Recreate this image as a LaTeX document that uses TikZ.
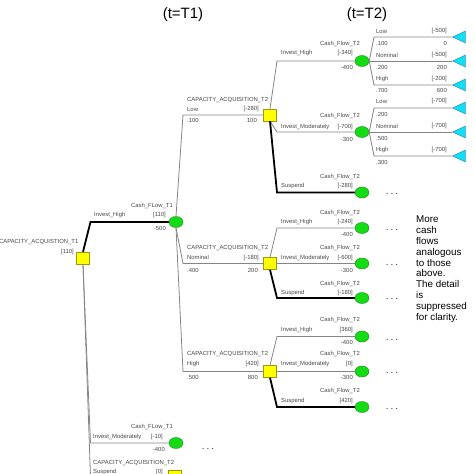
\documentclass[tikz,border=0pt]{standalone}
\usepackage{fontspec}
\setmainfont{Liberation Sans}
\usepackage{xcolor}
\definecolor{node-yellow}{HTML}{FFFF00}
\definecolor{node-olive}{HTML}{9A9A10}
\definecolor{node-green}{HTML}{14DC14}
\definecolor{node-darkgreen}{HTML}{1A8A1A}
\definecolor{node-cyan}{HTML}{12E0F0}
\definecolor{node-blue}{HTML}{2A78C0}
\usepackage{tikz}
\usetikzlibrary{shapes.geometric}
\tikzset{dec/.style = {draw=node-olive, fill=node-yellow, minimum width=13pt, minimum height=12pt, inner sep=0}}
\tikzset{chance/.style = {draw=node-darkgreen, fill=node-green, ellipse, minimum width=14pt, minimum height=11pt, inner sep=0}}
\tikzset{term/.style = {draw=node-blue, fill=node-cyan, isosceles triangle, isosceles triangle stretches, shape border rotate=180, minimum width=12pt, minimum height=13pt, inner sep=0, anchor=apex}}
\tikzset{lab/.style = {inner sep=0, text=black!72, font=\fontsize{5.9}{7}\selectfont, anchor=west}}
\tikzset{labr/.style = {lab, anchor=east}}
\tikzset{title/.style = {inner sep=0, font=\fontsize{15}{18}\selectfont}}
\tikzset{dots/.style = {inner sep=0, text=black!80, font=\fontsize{10}{12}\selectfont}}
\tikzset{br/.style = {draw=black!48, line width=0.8pt}}
\tikzset{opt/.style = {draw=black, line width=1.8pt}}

\begin{document}
\begin{tikzpicture}[x=1pt, y=-1pt]
\useasboundingbox (0,0) rectangle (474,474);

\node[title] (tt1) at (183,15) {(t=T1)};
\node[title] (tt2) at (367,15) {(t=T2)};

% tree nodes
\node[dec] (d0) at (83,258) {};
\node[chance] (c1) at (176,222) {};
\node[chance] (c2) at (176,443) {};
\node[dec] (d4) at (175,476.5) {};
\node[dec] (d1) at (270,115) {};
\node[dec] (d2) at (270,263.5) {};
\node[dec] (d3) at (270,371.5) {};
\node[chance] (c3) at (362,61) {};
\node[chance] (c4) at (362,132) {};
\node[chance] (c5) at (362,192.5) {};
\node[chance] (c6) at (362,228) {};
\node[chance] (c7) at (362,263.5) {};
\node[chance] (c8) at (362,298) {};
\node[chance] (c9) at (362,336.5) {};
\node[chance] (c10) at (362,371.5) {};
\node[chance] (c11) at (362,407) {};
\node[term] (t1) at (452,37) {};
\node[term] (t2) at (452,61) {};
\node[term] (t3) at (452,85) {};
\node[term] (t4) at (452,108) {};
\node[term] (t5) at (452,132) {};
\node[term] (t6) at (452,156) {};

% fan points
\coordinate (f0) at (90.5,0);
\coordinate (f1) at (183,0);
\coordinate (f2) at (277,0);
\coordinate (f3) at (374,0);

% root
\node[labr] (d0h) at (78.5,242) {CAPACITY\_ACQUISTION\_T1};
\node[labr] (d0v) at (74,252) {[110]};
\node[labr] (c1h) at (173,206) {Cash\_FLow\_T1};
\node[lab] (c1n) at (94,215) {Invest\_High};
\node[labr] (c1v) at (166,215) {[110]};
\node[labr] (c1p) at (166,228) {-500};
\node[labr] (c2h) at (173,427) {Cash\_FLow\_T1};
\node[lab] (c2n) at (93,437) {Invest\_Moderately};
\node[labr] (c2v) at (163,437) {[-10]};
\node[labr] (c2p) at (165,449) {-400};
\node[lab] (d4h) at (93,463) {CAPACITY\_ACQUISITION\_T2};
\node[lab] (d4n) at (93,472) {Suspend};
\node[labr] (d4v) at (163,472) {[0]};

% capacity at T2
\node[lab] (d1h) at (187,100) {CAPACITY\_ACQUISITION\_T2};
\node[lab] (d1n) at (187,109) {Low};
\node[labr] (d1v) at (259,109) {[-280]};
\node[lab] (d1p) at (187,120) {.100};
\node[labr] (d1q) at (257,120) {100};
\node[lab] (d2h) at (187,248) {CAPACITY\_ACQUISITION\_T2};
\node[lab] (d2n) at (187,257.5) {Nominal};
\node[labr] (d2v) at (259,257.5) {[-180]};
\node[lab] (d2p) at (187,270) {.400};
\node[labr] (d2q) at (258,270) {200};
\node[lab] (d3h) at (187,354) {CAPACITY\_ACQUISITION\_T2};
\node[lab] (d3n) at (187,364) {High};
\node[labr] (d3v) at (259,364) {[420]};
\node[lab] (d3p) at (187,377) {.500};
\node[labr] (d3q) at (258,377) {800};

% cash flows at T2
\node[labr] (c3h) at (360,44) {Cash\_Flow\_T2};
\node[lab] (c3n) at (281,53) {Invest\_High};
\node[labr] (c3v) at (353,53) {[-340]};
\node[labr] (c3p) at (353,67) {-400};
\node[labr] (c4h) at (360,116) {Cash\_Flow\_T2};
\node[lab] (c4n) at (281,127) {Invest\_Moderately};
\node[labr] (c4v) at (353,127) {[-700]};
\node[labr] (c4p) at (353,139) {-300};
\node[labr] (c5h) at (360,177) {Cash\_Flow\_T2};
\node[lab] (c5n) at (281,186) {Suspend};
\node[labr] (c5v) at (353,186) {[-280]};
\node[labr] (c6h) at (360,213) {Cash\_Flow\_T2};
\node[lab] (c6n) at (281,222) {Invest\_High};
\node[labr] (c6v) at (353,222) {[-240]};
\node[labr] (c6p) at (353,234) {-400};
\node[labr] (c7h) at (360,248) {Cash\_Flow\_T2};
\node[lab] (c7n) at (281,258) {Invest\_Moderately};
\node[labr] (c7v) at (353,258) {[-600]};
\node[labr] (c7p) at (353,270) {-300};
\node[labr] (c8h) at (360,284) {Cash\_Flow\_T2};
\node[lab] (c8n) at (281,293) {Suspend};
\node[labr] (c8v) at (353,293) {[-180]};
\node[labr] (c9h) at (360,320) {Cash\_Flow\_T2};
\node[lab] (c9n) at (281,330) {Invest\_High};
\node[labr] (c9v) at (353,330) {[360]};
\node[labr] (c9p) at (353,342) {-400};
\node[labr] (c10h) at (360,354) {Cash\_Flow\_T2};
\node[lab] (c10n) at (281,364) {Invest\_Moderately};
\node[labr] (c10v) at (353,364) {[0]};
\node[labr] (c10p) at (353,377) {-300};
\node[labr] (c11h) at (360,391) {Cash\_Flow\_T2};
\node[lab] (c11n) at (281,401) {Suspend};
\node[labr] (c11v) at (353,401) {[420]};

% outcomes
\node[lab] (t1n) at (376,31) {Low};
\node[labr] (t1v) at (447,31) {[-500]};
\node[lab] (t1p) at (376,43) {.100};
\node[labr] (t1q) at (447,43) {0};
\node[lab] (t2n) at (376,55) {Nominal};
\node[labr] (t2v) at (447,55) {[-500]};
\node[lab] (t2p) at (376,67) {.200};
\node[labr] (t2q) at (447,67) {200};
\node[lab] (t3n) at (376,79) {High};
\node[labr] (t3v) at (447,79) {[-200]};
\node[lab] (t3p) at (376,90) {.700};
\node[labr] (t3q) at (447,90) {600};
\node[lab] (t4n) at (376,101) {Low};
\node[labr] (t4v) at (447,101) {[-700]};
\node[lab] (t4p) at (376,114) {.200};
\node[lab] (t5n) at (376,126) {Nominal};
\node[labr] (t5v) at (447,126) {[-700]};
\node[lab] (t5p) at (376,138) {.500};
\node[lab] (t6n) at (376,150) {High};
\node[labr] (t6v) at (447,150) {[-700]};
\node[lab] (t6p) at (376,162) {.300};

% suppressed subtrees
\node[dots] (e2) at (208,449) {.\hspace{2pt}.\hspace{2pt}.};
\node[dots] (e5) at (392,194) {.\hspace{2pt}.\hspace{2pt}.};
\node[dots] (e6) at (392,230) {.\hspace{2pt}.\hspace{2pt}.};
\node[dots] (e7) at (392,265) {.\hspace{2pt}.\hspace{2pt}.};
\node[dots] (e8) at (392,299) {.\hspace{2pt}.\hspace{2pt}.};
\node[dots] (e9) at (392,340) {.\hspace{2pt}.\hspace{2pt}.};
\node[dots] (e10) at (392,373) {.\hspace{2pt}.\hspace{2pt}.};
\node[dots] (e11) at (392,409) {.\hspace{2pt}.\hspace{2pt}.};
\node[anchor=north west, inner sep=0, align=left, font=\fontsize{9.8}{10.8}\selectfont] (note) at (416,216) {More\\cash\\flows\\analogous\\to those\\above.\\The detail\\is\\suppressed\\for clarity.};

% branches
\draw[opt] (d0.north) -- (f0 |- c1) -- (c1);
\draw[br] (d0.south) -- (f0 |- c2) -- (c2);
\draw[br] (d0.south) -- (f0 |- d4) -- (d4);
\draw[br] (c1.north) -- (f1 |- d1) -- (d1);
\draw[br] (c1.south) -- (f1 |- d2) -- (d2);
\draw[br] (c1.south) -- (f1 |- d3) -- (d3);
\draw[br] (d1.north) -- (f2 |- c3) -- (c3);
\draw[br] (d1.south) -- (f2 |- c4) -- (c4);
\draw[opt] (d1.south) -- (f2 |- c5) -- (c5);
\draw[br] (d2.north) -- (f2 |- c6) -- (c6);
\draw[br] (d2) -- (c7);
\draw[opt] (d2.south) -- (f2 |- c8) -- (c8);
\draw[br] (d3.north) -- (f2 |- c9) -- (c9);
\draw[br] (d3) -- (c10);
\draw[opt] (d3.south) -- (f2 |- c11) -- (c11);
\draw[br] (c3.east) -- (f3 |- t1) -- (t1);
\draw[br] (c3) -- (t2);
\draw[br] (c3.east) -- (f3 |- t3) -- (t3);
\draw[br] (c4.east) -- (f3 |- t4) -- (t4);
\draw[br] (c4) -- (t5);
\draw[br] (c4.east) -- (f3 |- t6) -- (t6);

\end{tikzpicture}
\end{document}
